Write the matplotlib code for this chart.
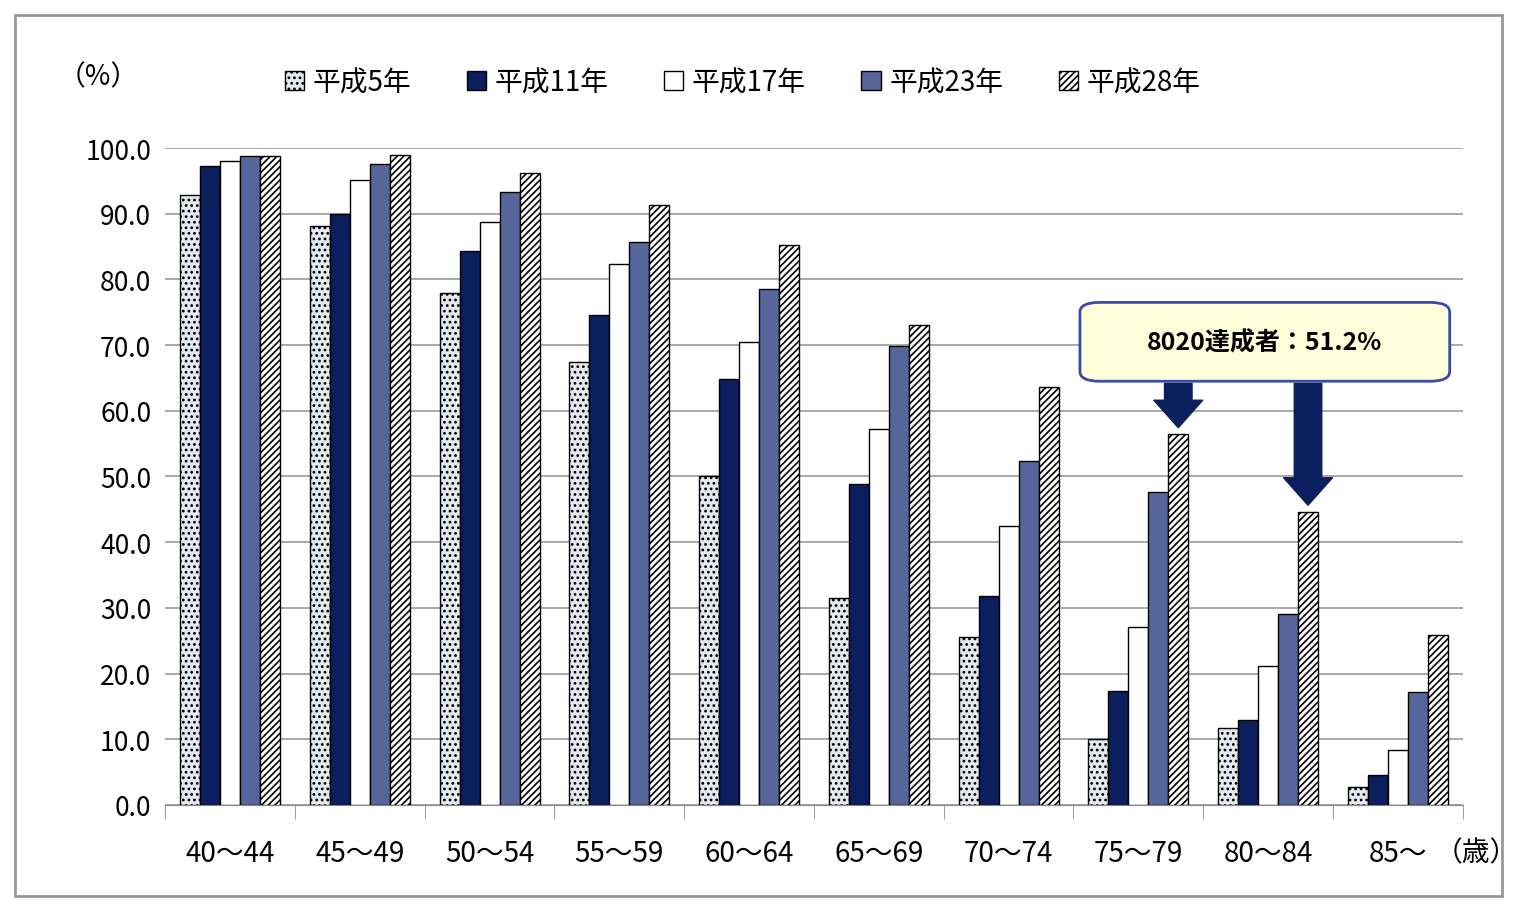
import numpy as np
import matplotlib.pyplot as plt
from matplotlib.patches import FancyBboxPatch, Rectangle

plt.rcParams['font.family'] = ['Noto Sans CJK JP', 'DejaVu Sans']
plt.rcParams['hatch.linewidth'] = 1.2

ages = ['40～44', '45～49', '50～54', '55～59', '60～64', '65～69',
        '70～74', '75～79', '80～84', '85～']
years = ['平成5年', '平成11年', '平成17年', '平成23年', '平成28年']
h5 = [92.9, 88.2, 78.0, 67.5, 50.1, 31.5, 25.5, 10.1, 11.7, 2.8]
h11 = [97.3, 90.0, 84.3, 74.6, 64.9, 48.8, 31.8, 17.4, 13.0, 4.5]
h17 = [98.1, 95.1, 88.8, 82.3, 70.4, 57.2, 42.5, 27.1, 21.2, 8.3]
h23 = [98.8, 97.6, 93.3, 85.7, 78.5, 69.9, 52.4, 47.6, 29.1, 17.2]
h28 = [98.8, 99.0, 96.2, 91.4, 85.3, 73.1, 63.6, 56.4, 44.6, 25.9]
series = [h5, h11, h17, h23, h28]

styles = [
    dict(color='#e4e8f0', hatch='...'),
    dict(color='#0b1f5e', hatch=None),
    dict(color='white', hatch=None),
    dict(color='#56659a', hatch=None),
    dict(color='white', hatch='/////'),
]

fig = plt.figure(figsize=(15.3, 9.2), dpi=100)
fig.patches.append(Rectangle((0.01, 0.025), 0.972, 0.958, transform=fig.transFigure,
                             fill=False, edgecolor='#999999', linewidth=2))
ax = fig.add_axes([0.108, 0.124, 0.848, 0.714])

x = np.arange(len(ages))
w = 0.154
for i, (vals, st) in enumerate(zip(series, styles)):
    ax.bar(x + (i - 2) * w, vals, w, color=st['color'], hatch=st['hatch'],
           edgecolor='black', linewidth=1, label=years[i], zorder=3)

ax.set_xlim(-0.5, len(ages) - 0.5)
ax.set_ylim(0, 100)
ax.set_yticks(np.arange(0, 101, 10))
ax.set_yticklabels([f'{v:.1f}' for v in np.arange(0, 101, 10)], fontsize=19)
ax.yaxis.grid(True, color='#999999', linewidth=1.2, zorder=0)
ax.set_xticks(x)
ax.set_xticklabels(ages, fontsize=20)
ax.set_xticks(np.arange(-0.5, len(ages), 1), minor=True)
ax.tick_params(axis='x', which='major', length=0, pad=24)
ax.tick_params(axis='x', which='minor', length=10, color='#888888')
ax.tick_params(axis='y', length=0, pad=10)
for s in ['top', 'right', 'left']:
    ax.spines[s].set_visible(False)
ax.spines['bottom'].set_color('#888888')

fig.text(0.938, 0.073, '（歳）', fontsize=20, ha='left', va='center')
fig.text(0.038, 0.916, '（%）', fontsize=20, ha='left', va='center')

ax.legend(loc='center', bbox_to_anchor=(0.445, 1.1), ncol=5, frameon=False,
          fontsize=20, handlelength=0.7, handleheight=0.7, columnspacing=2.0,
          handletextpad=0.3)

# annotation box
box = FancyBboxPatch((0.705, 0.645), 0.285, 0.12, transform=ax.transAxes,
                     boxstyle='round,pad=0,rounding_size=0.015',
                     facecolor='#ffffdc', edgecolor='#3a4aa8', linewidth=2, zorder=5)
ax.add_patch(box)
ax.text(0.847, 0.705, '8020達成者：51.2%', transform=ax.transAxes, fontsize=18,
        fontweight='bold', ha='center', va='center', zorder=6)
for gi in [7, 8]:
    xa = x[gi] + 2 * w
    ax.annotate('', xy=(xa, h28[gi] + 0.6), xytext=(xa, 64.6),
                arrowprops=dict(arrowstyle='simple,head_width=1.6,head_length=0.9,tail_width=0.9',
                                mutation_scale=22, color='#0b1f5e'), zorder=4)

fig.savefig('out.png', dpi=100)
